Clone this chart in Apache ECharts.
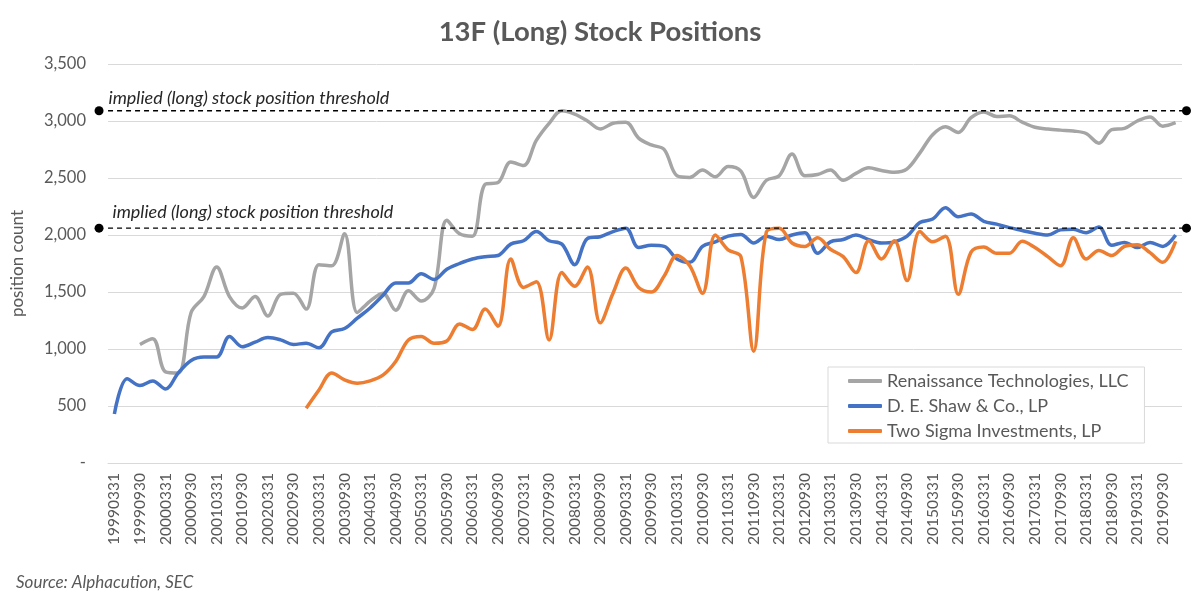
<!DOCTYPE html>
<html><head><meta charset="utf-8">
<script src="https://cdn.jsdelivr.net/npm/echarts@6/dist/echarts.min.js"></script>
<style>html,body{margin:0;padding:0;background:#fff}#c{width:1200px;height:605px}</style>
</head><body><div id="c"></div>
<script>
const categories = [
"19990331","19990630","19990930","19991231","20000331","20000630","20000930","20001231",
"20010331","20010630","20010930","20011231","20020331","20020630","20020930","20021231",
"20030331","20030630","20030930","20031231","20040331","20040630","20040930","20041231",
"20050331","20050630","20050930","20051231","20060331","20060630","20060930","20061231",
"20070331","20070630","20070930","20071231","20080331","20080630","20080930","20081231",
"20090331","20090630","20090930","20091231","20100331","20100630","20100930","20101231",
"20110331","20110630","20110930","20111231","20120331","20120630","20120930","20121231",
"20130331","20130630","20130930","20131231","20140331","20140630","20140930","20141231",
"20150331","20150630","20150930","20151231","20160331","20160630","20160930","20161231",
"20170331","20170630","20170930","20171231","20180331","20180630","20180930","20181231",
"20190331","20190630","20190930","20191231"];

const renaissance = [
null,null,1040,1090,800,790,1320,1460,1720,1460,
1360,1460,1290,1480,1490,1350,1740,1730,2010,1320,
1420,1490,1340,1510,1420,1530,2130,2010,1990,2445,
2460,2640,2610,2830,2980,3090,3060,3000,2930,2980,
2990,2850,2790,2750,2520,2505,2570,2510,2600,2560,
2330,2480,2520,2710,2520,2530,2570,2480,2540,2590,
2565,2550,2580,2720,2880,2950,2900,3030,3080,3040,
3045,2990,2945,2930,2920,2912,2890,2805,2925,2935,
3000,3035,2955,2985];

const deShaw = [
430,740,680,720,650,790,900,930,930,1110,
1020,1060,1100,1080,1040,1050,1010,1150,1180,1270,
1360,1470,1580,1580,1660,1610,1700,1750,1790,1810,
1820,1920,1950,2030,1950,1920,1740,1970,1985,2030,
2060,1890,1910,1900,1790,1760,1900,1940,1990,2005,
1930,1990,1960,2000,2020,1840,1940,1960,2000,1960,
1930,1940,1990,2110,2140,2240,2160,2185,2120,2095,
2065,2040,2015,2000,2045,2050,2020,2070,1910,1935,
1890,1935,1900,2000];

const twoSigma = [
null,null,null,null,null,null,null,null,null,null,
null,null,null,null,null,480,640,790,730,700,
720,770,890,1080,1110,1050,1070,1220,1170,1350,
1200,1790,1540,1590,1080,1670,1550,1720,1230,1490,
1710,1540,1500,1640,1820,1730,1490,2000,1870,1810,
980,2030,2060,1930,1900,1975,1875,1810,1670,1950,
1790,1950,1600,2030,1940,1990,1480,1850,1895,1840,
1840,1945,1890,1810,1730,1975,1790,1865,1820,1900,
1915,1845,1760,1945];

const seriesNames = ["Renaissance Technologies, LLC", "D. E. Shaw & Co., LP", "Two Sigma Investments, LP"];
const seriesColors = ["#a5a5a5", "#4472c4", "#ed7d31"];
const thresholds = [3090, 2060];
const thresholdText = "implied (long) stock position threshold";

const FONT = "Lato";
const chart = echarts.init(document.getElementById('c'));

function dataSeries(name, data, color) {
  return {
    name: name, type: 'line', data: data, smooth: 0.35, showSymbol: false,
    connectNulls: false, xAxisIndex: 0,
    lineStyle: {color: color, width: 3.5}, itemStyle: {color: color}
  };
}
function thresholdSeries(value, offs) {
  return {
    type: 'line', xAxisIndex: 1, clip: false, z: 5,
    symbol: 'circle', symbolSize: 9, showSymbol: true,
    lineStyle: {color: '#000', width: 1.3, type: [5, 4]},
    itemStyle: {color: '#000'},
    data: [
      {value: [-0.7, value], label: {show: true, position: 'right', distance: 5, offset: offs,
        formatter: thresholdText, fontFamily: FONT, fontStyle: 'italic', fontSize: 18, color: '#262626'}},
      {value: [84.35, value]}
    ]
  };
}

chart.setOption({
  animation: false,
  textStyle: {fontFamily: FONT},
  title: [
    {text: '13F (Long) Stock Positions', left: 'center', top: 13,
     textStyle: {fontFamily: FONT, fontSize: 27.5, fontWeight: 'bold', color: '#595959'}},
    {text: 'Source: Alphacution, SEC', left: 11, top: 569,
     textStyle: {fontFamily: FONT, fontSize: 17, fontStyle: 'italic', fontWeight: 'normal', color: '#595959'}}
  ],
  grid: {left: 108, right: 18, top: 64, bottom: 142},
  legend: {
    data: seriesNames, orient: 'vertical', left: 828, top: 367,
    icon: 'roundRect', itemWidth: 34, itemHeight: 4, itemGap: 3,
    padding: [3, 16, 1, 20], borderColor: '#d9d9d9', borderWidth: 1, backgroundColor: '#fff',
    textStyle: {fontFamily: FONT, fontSize: 18, color: '#595959', lineHeight: 22}
  },
  xAxis: [
    {type: 'category', data: categories, boundaryGap: true,
     axisLine: {lineStyle: {color: '#d9d9d9'}}, axisTick: {show: false},
     axisLabel: {interval: 1, rotate: 90, color: '#595959', fontSize: 15.5, fontFamily: FONT, margin: 10}},
    {type: 'value', min: 0, max: 84, show: false}
  ],
  yAxis: {
    type: 'value', min: 0, max: 3500, interval: 500,
    name: 'position count', nameLocation: 'middle', nameGap: 82, nameRotate: 90,
    nameTextStyle: {fontFamily: FONT, fontSize: 17, color: '#595959'},
    axisLine: {show: false}, axisTick: {show: false},
    splitLine: {lineStyle: {color: '#d9d9d9'}},
    axisLabel: {color: '#595959', fontSize: 16.5, fontFamily: FONT, margin: 22,
      formatter: v => v === 0 ? '-' : v.toLocaleString('en-US')}
  },
  series: [
    dataSeries(seriesNames[0], renaissance, seriesColors[0]),
    dataSeries(seriesNames[1], deShaw, seriesColors[1]),
    dataSeries(seriesNames[2], twoSigma, seriesColors[2]),
    thresholdSeries(thresholds[0], [0, -13]),
    thresholdSeries(thresholds[1], [4, -16])
  ]
});
</script></body></html>
